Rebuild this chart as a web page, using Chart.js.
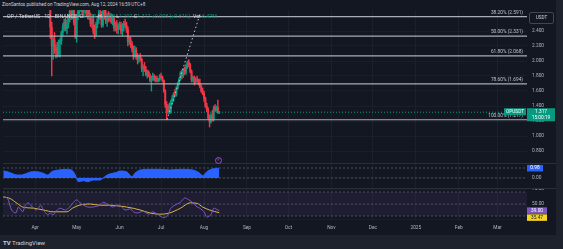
<!DOCTYPE html>
<html>
<head>
<meta charset="utf-8">
<title>OP / TetherUS</title>
<script src="https://cdn.jsdelivr.net/npm/chart.js@4.4.1/dist/chart.umd.min.js"></script>
<style>
  html, body { margin: 0; padding: 0; }
  body { width: 563px; height: 249px; background: #1e222d; position: relative; overflow: hidden;
         font-family: Roboto, "Liberation Sans", sans-serif; }
  #frame { position: absolute; left: 0; top: 0; width: 556px; height: 235px; background: #131722; }
  canvas { position: absolute; left: 3px; }
  #main { top: 10px; }
  #ind { top: 164px; }
  #rsi { top: 188px; }
  .txt { position: absolute; white-space: nowrap; font-size: 4.6px; line-height: 6px; }
  .sep { position: absolute; left: 3px; width: 553px; height: 1px; background: #2a2e39; }
  .g { color: #089981; }
  #legend { left: 7px; top: 13px; font-size: 5.3px; color: #d1d4dc; }
  #usdt { left: 529px; top: 12px; width: 23px; height: 10px; border: 1px solid #434651; border-radius: 2px;
          color: #d1d4dc; text-align: center; line-height: 10px; }
  #evt { left: 215px; top: 157px; width: 5px; height: 5px; border: 1px solid #9c4dcc; border-radius: 50%;
         color: #9c4dcc; font-size: 3.5px; line-height: 5px; text-align: center; }
  #footer { left: 3px; top: 239px; font-size: 6px; line-height: 7px; color: #d1d4dc; }
</style>
</head>
<body>
<div id="frame"></div>
<div class="txt" style="left:2px; top:2px; color:#d1d4dc;">ZionSantos published on TradingView.com, Aug 12, 2024 16:59 UTC+8</div>
<canvas id="main" width="553" height="153"></canvas>
<canvas id="ind" width="553" height="24"></canvas>
<canvas id="rsi" width="553" height="47"></canvas>
<div class="sep" style="top:163px"></div>
<div class="sep" style="top:188px"></div>
<div class="txt" id="legend">OP / TetherUS · 1D · BINANCE &nbsp;O<span class="g">1.309</span> H<span class="g">1.330</span> L<span class="g">1.297</span> C<span class="g">1.317</span> <span class="g">+0.008 (+0.61%)</span> &nbsp;Vol <span class="g">6.47M</span></div>
<div class="txt" id="usdt">USDT</div>
<div class="txt" id="evt">E</div>
<div class="txt" id="footer"><b>TV</b> TradingView</div>
<script>
const FONT = 'Roboto, "Liberation Sans", sans-serif';
const UP = '#089981';
const DOWN = '#f23645';
const AXIS_TEXT = '#b2b5be';

// x values are days counted from 2024-04-01
const xMin = -23.2;
const xMax = 355.3;
const monthDays = [0, 30, 61, 91, 122, 153, 183, 214, 244, 275, 306, 334];
const monthLabels = ['Apr', 'May', 'Jun', 'Jul', 'Aug', 'Sep', 'Oct', 'Nov', 'Dec', '2025', 'Feb', 'Mar'];

// daily candles, first one is 2024-04-08 (day 7)
const firstDay = 7;
const opens = [
  3.10, 3.05, 2.92, 2.90, 2.84, 2.45, 2.20, 2.28, 2.14, 2.18,
  2.09, 2.24, 2.27, 2.38, 2.46, 2.52, 2.43, 2.50, 2.58, 2.66,
  2.60, 2.68, 2.52, 2.34, 2.60, 2.66, 2.74, 2.80, 2.66, 2.70,
  2.78, 2.63, 2.70, 2.58, 2.50, 2.56, 2.40, 2.35, 2.49, 2.56,
  2.64, 2.60, 2.48, 2.66, 2.62, 2.54, 2.60, 2.57, 2.59, 2.52,
  2.58, 2.44, 2.48, 2.42, 2.46, 2.48, 2.40, 2.45, 2.50, 2.48,
  2.42, 2.26, 2.28, 2.22, 2.16, 2.08, 2.15, 2.05, 2.03, 2.06,
  2.02, 1.90, 1.92, 1.88, 1.82, 1.85, 1.80, 1.74, 1.78, 1.80,
  1.75, 1.77, 1.74, 1.75, 1.80, 1.78, 1.74, 1.60, 1.42, 1.32,
  1.40, 1.33, 1.46, 1.50, 1.56, 1.55, 1.64, 1.70, 1.76, 1.84,
  1.80, 1.88, 1.85, 1.94, 1.98, 1.95, 1.86, 1.75, 1.78, 1.72,
  1.76, 1.74, 1.70, 1.66, 1.60, 1.57, 1.50, 1.40, 1.35, 1.24,
  1.19, 1.27, 1.22, 1.38, 1.35, 1.38, 1.309
];
const highs = [
  3.18, 3.10, 2.98, 2.95, 2.90, 2.52, 2.32, 2.38, 2.22, 2.25,
  2.28, 2.30, 2.40, 2.50, 2.56, 2.58, 2.55, 2.62, 2.70, 2.75,
  2.72, 2.74, 2.58, 2.62, 2.72, 2.80, 2.85, 2.86, 2.76, 2.82,
  2.84, 2.72, 2.76, 2.64, 2.60, 2.62, 2.48, 2.52, 2.60, 2.68,
  2.72, 2.66, 2.70, 2.76, 2.68, 2.64, 2.66, 2.64, 2.63, 2.62,
  2.60, 2.52, 2.54, 2.50, 2.52, 2.52, 2.50, 2.53, 2.56, 2.52,
  2.46, 2.32, 2.32, 2.26, 2.20, 2.20, 2.18, 2.10, 2.08, 2.10,
  2.04, 1.95, 1.98, 1.93, 1.88, 1.87, 1.83, 1.80, 1.84, 1.82,
  1.80, 1.80, 1.77, 1.82, 1.84, 1.80, 1.75, 1.62, 1.46, 1.42,
  1.44, 1.48, 1.54, 1.58, 1.62, 1.66, 1.72, 1.78, 1.86, 1.88,
  1.90, 1.92, 1.96, 2.00, 2.02, 1.97, 1.88, 1.80, 1.80, 1.78,
  1.80, 1.76, 1.76, 1.68, 1.64, 1.60, 1.52, 1.44, 1.38, 1.28,
  1.30, 1.34, 1.40, 1.42, 1.40, 1.48, 1.33
];
const lows = [
  3.02, 2.88, 2.78, 2.80, 2.30, 1.80, 2.02, 2.10, 2.04, 2.05,
  2.06, 2.05, 2.22, 2.33, 2.40, 2.40, 2.36, 2.44, 2.52, 2.55,
  2.56, 2.48, 2.30, 2.25, 2.55, 2.60, 2.66, 2.62, 2.58, 2.64,
  2.60, 2.56, 2.55, 2.46, 2.44, 2.36, 2.30, 2.33, 2.44, 2.50,
  2.55, 2.45, 2.45, 2.56, 2.50, 2.46, 2.52, 2.53, 2.50, 2.48,
  2.40, 2.40, 2.37, 2.36, 2.42, 2.36, 2.34, 2.40, 2.44, 2.38,
  2.20, 2.22, 2.18, 2.12, 2.02, 2.05, 2.02, 1.96, 1.98, 2.00,
  1.86, 1.80, 1.86, 1.80, 1.77, 1.79, 1.72, 1.60, 1.74, 1.73,
  1.72, 1.72, 1.72, 1.73, 1.76, 1.72, 1.58, 1.38, 1.217, 1.30,
  1.30, 1.30, 1.42, 1.46, 1.52, 1.53, 1.62, 1.68, 1.74, 1.76,
  1.78, 1.82, 1.82, 1.90, 1.92, 1.84, 1.72, 1.72, 1.68, 1.70,
  1.72, 1.68, 1.64, 1.58, 1.55, 1.46, 1.38, 1.32, 1.22, 1.12,
  1.17, 1.20, 1.20, 1.32, 1.33, 1.30, 1.297
];
const closes = [
  3.05, 2.92, 2.90, 2.84, 2.45, 2.20, 2.28, 2.14, 2.18, 2.09,
  2.24, 2.27, 2.38, 2.46, 2.52, 2.43, 2.50, 2.58, 2.66, 2.60,
  2.68, 2.52, 2.34, 2.60, 2.66, 2.74, 2.80, 2.66, 2.70, 2.78,
  2.63, 2.70, 2.58, 2.50, 2.56, 2.40, 2.35, 2.49, 2.56, 2.64,
  2.60, 2.48, 2.66, 2.62, 2.54, 2.60, 2.57, 2.59, 2.52, 2.58,
  2.44, 2.48, 2.42, 2.46, 2.48, 2.40, 2.45, 2.50, 2.48, 2.42,
  2.26, 2.28, 2.22, 2.16, 2.08, 2.15, 2.05, 2.03, 2.06, 2.02,
  1.90, 1.92, 1.88, 1.82, 1.85, 1.80, 1.74, 1.78, 1.80, 1.75,
  1.77, 1.74, 1.75, 1.80, 1.78, 1.74, 1.60, 1.42, 1.32, 1.40,
  1.33, 1.46, 1.50, 1.56, 1.55, 1.64, 1.70, 1.76, 1.84, 1.80,
  1.88, 1.85, 1.94, 1.98, 1.95, 1.86, 1.75, 1.78, 1.72, 1.76,
  1.74, 1.70, 1.66, 1.60, 1.57, 1.50, 1.40, 1.35, 1.24, 1.19,
  1.27, 1.22, 1.38, 1.35, 1.38, 1.309, 1.317
];
const lastPrice = 1.317;

const priceTicks = [0.8, 1.0, 1.2, 1.4, 1.6, 1.8, 2.0, 2.2, 2.4];
const fibLevels = [2.591, 2.331, 2.068, 1.694, 1.217];
const fibLabels = ['38.20% (2.591)', '50.00% (2.331)', '61.80% (2.068)', '78.60% (1.694)', '100.00% (1.217)'];
// dotted projection drawn on the chart: [day, price]
const projStart = [95.3, 1.217];
const projEnd = [119.1, 2.627];

// blue oscillator pane
const indDays = [-23, -20, -17, -13, -10, -6, -2, 1, 6, 9, 12, 17, 23, 27, 29, 30, 31, 35, 38, 42,
                 47, 49, 52, 56, 59, 61, 66, 70, 72, 76, 83, 90, 97, 105, 114, 119, 121, 124, 128, 133];
const indValues = [0.70, 0.63, 0.47, 0.30, 0.30, 0.47, 0.63, 0.63, 0.47, 0.30, 0.63, 0.80, 0.87, 0.73, 0.30, -0.03, -0.37, -0.27, -0.37, -0.20,
                   -0.20, -0.03, 0.30, 0.47, 0.57, 0.70, 0.63, 0.13, 0.47, 0.80, 0.87, 0.87, 0.80, 0.87, 0.80, 0.47, 0.23, 0.63, 0.90, 0.98];
const indLast = 0.98;

// RSI pane
const rsiDays = [-23, -20, -17, -14, -12, -9, -7, -5, -2, 1, 4, 6, 9, 11, 13, 16, 18, 22, 25, 27,
                 30, 32, 35, 38, 42, 47, 49, 52, 56, 59, 61, 65, 69, 71, 74, 78, 82, 85, 89, 93,
                 96, 98, 101, 105, 108, 111, 114, 117, 119, 122, 124, 127, 129, 132, 133];
const rsiValues = [61, 60, 40, 35, 45, 37, 48, 52, 45, 40, 48, 40, 32, 35, 32, 40, 43, 40, 45, 51,
                   57, 53, 48, 45, 45, 48, 53, 50, 45, 48, 48, 40, 42, 37, 35, 38, 33, 37, 32, 27,
                   32, 43, 48, 53, 60, 57, 52, 45, 43, 37, 28, 32, 43, 40, 39];
const maDays = [-23, -18, -13, -9, -1, 6, 13, 23, 27, 32, 40, 47, 54, 59, 66, 76, 83, 90, 97, 105, 112, 117, 121, 126, 133];
const maValues = [62, 59, 51, 45, 43, 40, 37, 37, 43, 48, 50, 48, 48, 47, 45, 40, 35, 33, 35, 43, 52, 51, 45, 40, 35.47];
const rsiLast = 39.00;
const maLast = 35.47;

const days = opens.map((_, i) => firstDay + i);
const candleColors = opens.map((o, i) => closes[i] >= o ? UP : DOWN);

function zeroPad(s) { s.paddingTop = 0; s.paddingBottom = 0; s.paddingLeft = 0; s.paddingRight = 0; }

function timeScale(showLabels) {
  return {
    type: 'linear', min: xMin, max: xMax, offset: false,
    afterBuildTicks: s => { s.ticks = monthDays.map(v => ({ value: v })); },
    ticks: { display: showLabels, autoSkip: false, maxRotation: 0, padding: 4, color: AXIS_TEXT,
             font: { size: 4.8, family: FONT }, callback: (v, i) => monthLabels[i] },
    grid: { color: '#1c202b', drawTicks: false, offset: false },
    border: { display: false },
    afterFit: s => { zeroPad(s); s.height = showLabels ? 14 : 0; }
  };
}

function priceScale(min, max, ticks, digits) {
  return {
    position: 'right', min: min, max: max,
    afterBuildTicks: s => { s.ticks = ticks.map(v => ({ value: v })); },
    ticks: { padding: 5, color: AXIS_TEXT, font: { size: 4.8, family: FONT }, callback: v => v.toFixed(digits) },
    grid: { color: '#1a1e29', drawTicks: false },
    border: { display: false },
    afterFit: s => { zeroPad(s); s.width = 29; }
  };
}

function flatLine(level, color, dash, fill, bg, width) {
  return { type: 'line', data: [{ x: xMin, y: level }, { x: xMax, y: level }], borderColor: color,
           borderWidth: width || 1, borderDash: dash || [], pointRadius: 0, fill: fill || false,
           backgroundColor: bg || 'transparent' };
}

function badge(ctx, x, yc, w, h, bg, fg, lines) {
  ctx.fillStyle = bg;
  ctx.fillRect(x, yc - h / 2, w, h);
  ctx.fillStyle = fg;
  ctx.textAlign = 'center';
  ctx.textBaseline = 'middle';
  const step = h / lines.length;
  lines.forEach((t, i) => ctx.fillText(t, x + w / 2, yc - h / 2 + step * (i + 0.5)));
}

const mainOverlay = {
  id: 'mainOverlay',
  afterDraw(chart) {
    const { ctx, chartArea, scales: { y } } = chart;
    ctx.save();
    ctx.font = `4.8px ${FONT}`;
    ctx.fillStyle = '#c3c6ce';
    ctx.textAlign = 'right';
    ctx.textBaseline = 'bottom';
    fibLevels.forEach((lv, i) => ctx.fillText(fibLabels[i], chartArea.right - 4, y.getPixelForValue(lv) - 1.5));
    const py = y.getPixelForValue(lastPrice);
    badge(ctx, chartArea.right - 23, py - 0.5, 22, 7, UP, '#ffffff', ['OPUSDT']);
    badge(ctx, chartArea.right, py + 2.5, 28, 13, UP, '#ffffff', ['1.317', '15:00:19']);
    ctx.restore();
  }
};

new Chart(document.getElementById('main'), {
  type: 'bar',
  data: {
    datasets: [
      ...fibLevels.map(lv => flatLine(lv, '#a9acb5', null, false, null, 1.2)),
      { type: 'line', data: [{ x: projStart[0], y: projStart[1] }, { x: projEnd[0], y: projEnd[1] }],
        borderColor: '#c3c6ce', borderWidth: 1, borderDash: [1.5, 2.5], pointRadius: 0 },
      flatLine(lastPrice, UP, [1, 2]),
      { data: days.map((d, i) => ({ x: d, y: [opens[i], closes[i]] })), backgroundColor: candleColors,
        barThickness: 1.3, minBarLength: 1, grouped: false },
      { data: days.map((d, i) => ({ x: d, y: [lows[i], highs[i]] })), backgroundColor: candleColors,
        barThickness: 0.8, grouped: false }
    ]
  },
  options: {
    responsive: false, animation: false,
    layout: { padding: 0 },
    plugins: { legend: { display: false }, tooltip: { enabled: false } },
    scales: { x: timeScale(false), y: priceScale(0.64, 2.68, priceTicks, 3) }
  },
  plugins: [mainOverlay]
});

const indOverlay = {
  id: 'indOverlay',
  afterDraw(chart) {
    const { ctx, chartArea, scales: { y } } = chart;
    ctx.save();
    ctx.font = `4.8px ${FONT}`;
    badge(ctx, chartArea.right, Math.max(y.getPixelForValue(indLast), 3.8), 16, 6.5, '#2962ff', '#ffffff', [indLast.toFixed(2)]);
    ctx.restore();
  }
};

new Chart(document.getElementById('ind'), {
  type: 'line',
  data: {
    datasets: [
      { data: indDays.map((d, i) => ({ x: d, y: indValues[i] })), borderColor: '#2962ff', borderWidth: 1,
        backgroundColor: '#2962ff', fill: 'origin', pointRadius: 0, cubicInterpolationMode: 'monotone' },
      flatLine(1, '#4a4e5a', [2, 2]),
      flatLine(0, '#4a4e5a', [2, 2])
    ]
  },
  options: {
    responsive: false, animation: false,
    layout: { padding: 0 },
    plugins: { legend: { display: false }, tooltip: { enabled: false } },
    scales: { x: timeScale(false), y: priceScale(-1.0, 1.4, [0], 2) }
  },
  plugins: [indOverlay]
});

const rsiOverlay = {
  id: 'rsiOverlay',
  afterDraw(chart) {
    const { ctx, chartArea, scales: { y } } = chart;
    ctx.save();
    ctx.font = `4.8px ${FONT}`;
    const ry = y.getPixelForValue(rsiLast);
    const my = Math.max(y.getPixelForValue(maLast), ry + 7);
    badge(ctx, chartArea.right, ry, 20, 6.5, '#7e57c2', '#ffffff', [rsiLast.toFixed(2)]);
    badge(ctx, chartArea.right, my, 20, 6.5, '#f5d42a', '#131722', [maLast.toFixed(2)]);
    ctx.restore();
  }
};

new Chart(document.getElementById('rsi'), {
  type: 'line',
  data: {
    datasets: [
      { data: rsiDays.map((d, i) => ({ x: d, y: rsiValues[i] })), borderColor: '#7e57c2', borderWidth: 1,
        pointRadius: 0, tension: 0.25 },
      { data: maDays.map((d, i) => ({ x: d, y: maValues[i] })), borderColor: '#d8b93a', borderWidth: 1,
        pointRadius: 0, cubicInterpolationMode: 'monotone' },
      flatLine(50, '#4a4e5a', [2, 2]),
      flatLine(70, '#4a4e5a', [2, 2], '+1', 'rgba(126, 87, 194, 0.1)'),
      flatLine(30, '#4a4e5a', [2, 2])
    ]
  },
  options: {
    responsive: false, animation: false,
    layout: { padding: 0 },
    plugins: { legend: { display: false }, tooltip: { enabled: false } },
    scales: { x: timeScale(true), y: priceScale(21.67, 76.67, [25, 50, 75], 2) }
  },
  plugins: [rsiOverlay]
});
</script>
</body>
</html>
